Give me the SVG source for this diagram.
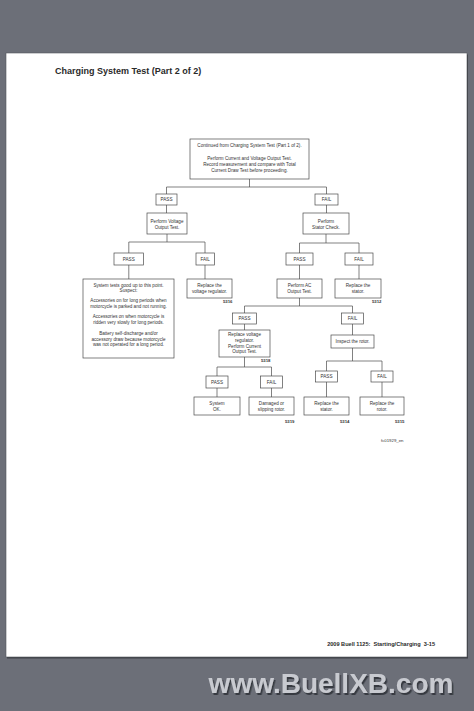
<svg xmlns="http://www.w3.org/2000/svg" width="474" height="711" viewBox="0 0 474 711">
<style>
.box{fill:#fff;stroke:#4a4a4a;stroke-width:0.7}
.conn{fill:none;stroke:#4a4a4a;stroke-width:0.7}
.t{font-family:"Liberation Sans",Arial,sans-serif;font-size:4.6px;fill:#333;text-anchor:middle}
.lbl{font-family:"Liberation Sans",Arial,sans-serif;font-size:4.3px;font-weight:bold;fill:#333;text-anchor:end}
</style>
<defs>
<filter id="sh" x="-5%" y="-20%" width="110%" height="150%">
<feDropShadow dx="1.5" dy="2" stdDeviation="0.6" flood-color="#33353b" flood-opacity="0.9"/>
</filter>
</defs>
<rect x="0" y="0" width="474" height="711" fill="#6c6f78"/>
<rect x="7" y="54.5" width="461" height="604" fill="#3e4047"/>
<rect x="6" y="53" width="461" height="604" fill="#fff" stroke="#55575e" stroke-width="0.6"/>
<text x="55" y="74" font-family="Liberation Sans,Arial,sans-serif" font-size="9" font-weight="bold" fill="#2a2a2a">Charging System Test (Part 2 of 2)</text>
<text x="435" y="646" font-family="Liberation Sans,Arial,sans-serif" font-size="5.6" font-weight="bold" fill="#2a2a2a" text-anchor="end" xml:space="preserve">2009 Buell 1125:  Starting/Charging  3-15</text>
<text x="381" y="441.5" font-family="Liberation Sans,Arial,sans-serif" font-size="4.3" fill="#333">fc01929_en</text>
<text x="331" y="692.5" font-family="Liberation Sans,Arial,sans-serif" font-size="28" font-weight="bold" fill="#c8cad0" text-anchor="middle" filter="url(#sh)">www.BuellXB.com</text>

<g id="connectors" class="conn">
<path d="M249.5 179V187M166.5 187H326.5M166.5 187V194M326.5 187V194"/>
<path d="M166.5 205V213M326.5 205V213"/>
<path d="M167 234V242M128.8 242H205M128.8 242V253M205 242V253"/>
<path d="M326 234V243M299.5 243H359M299.5 243V253M359 243V253"/>
<path d="M128.8 265V279M205 265V279M299.5 265V279M359 265V279"/>
<path d="M299.5 298V306M244.5 306H352.5M244.5 306V313M352.5 306V313"/>
<path d="M244.5 324V330M352.5 324V335"/>
<path d="M244.5 357V367M217 367H271.5M217 367V376M271.5 367V376"/>
<path d="M352.5 348V361M326.5 361H382M326.5 361V371M382 361V371"/>
<path d="M217 388V397M271.5 388V397M326.5 382V397M382 382V397"/>
</g>

<g id="n-start">
<rect class="box" x="190" y="139" width="119" height="40"/>
<text class="t" x="249.5" y="147.4">Continued from Charging System Test (Part 1 of 2).</text>
<text class="t" x="249.5" y="159.6">Perform Current and Voltage Output Test.</text>
<text class="t" x="249.5" y="165.9">Record measurement and compare with Total</text>
<text class="t" x="249.5" y="172.2">Current Draw Test before proceeding.</text>
</g>
<g id="n-pass1"><rect class="box" x="156" y="194" width="21" height="11"/><text class="t" x="166.5" y="201.1">PASS</text></g>
<g id="n-fail1"><rect class="box" x="315" y="194" width="23" height="11"/><text class="t" x="326.5" y="201.1">FAIL</text></g>
<g id="n-voltage"><rect class="box" x="147" y="213" width="40" height="21"/><text class="t" x="167" y="222.6">Perform Voltage</text><text class="t" x="167" y="229.3">Output Test.</text></g>
<g id="n-stator"><rect class="box" x="303" y="213" width="46" height="21"/><text class="t" x="326" y="222.6">Perform</text><text class="t" x="326" y="229.3">Stator Check.</text></g>
<g id="n-pass2"><rect class="box" x="114" y="253" width="29.5" height="12"/><text class="t" x="128.8" y="260.6">PASS</text></g>
<g id="n-fail2"><rect class="box" x="196" y="253" width="18.5" height="12"/><text class="t" x="205.2" y="260.6">FAIL</text></g>
<g id="n-pass3"><rect class="box" x="286" y="253" width="27" height="12"/><text class="t" x="299.5" y="260.6">PASS</text></g>
<g id="n-fail3"><rect class="box" x="345" y="253" width="28" height="12"/><text class="t" x="359" y="260.6">FAIL</text></g>
<g id="n-suspect">
<rect class="box" x="83" y="279" width="91" height="79"/>
<text class="t" x="128.5" y="286.6">System tests good up to this point.</text>
<text class="t" x="128.5" y="292.1">Suspect:</text>
<text class="t" x="128.5" y="302.1">Accessories on for long periods when</text>
<text class="t" x="128.5" y="307.6">motorcycle is parked and not running.</text>
<text class="t" x="128.5" y="318.4">Accessories on when motorcycle is</text>
<text class="t" x="128.5" y="323.9">ridden very slowly for long periods.</text>
<text class="t" x="128.5" y="335">Battery self-discharge and/or</text>
<text class="t" x="128.5" y="340.5">accessory draw because motorcycle</text>
<text class="t" x="128.5" y="346">was not operated for a long period.</text>
</g>
<g id="n-regulator"><rect class="box" x="187" y="279" width="45" height="19"/><text class="t" x="209.5" y="286.6">Replace the</text><text class="t" x="209.5" y="293.2">voltage regulator.</text><text class="lbl" x="232.5" y="302.5">5316</text></g>
<g id="n-ac"><rect class="box" x="277" y="279" width="45" height="19"/><text class="t" x="299.5" y="286.6">Perform AC</text><text class="t" x="299.5" y="293.2">Output Test.</text></g>
<g id="n-repstator"><rect class="box" x="335" y="279" width="46" height="19"/><text class="t" x="358" y="286.6">Replace the</text><text class="t" x="358" y="293.2">stator.</text><text class="lbl" x="381.5" y="302.5">5312</text></g>
<g id="n-pass4"><rect class="box" x="232.5" y="313" width="24" height="11"/><text class="t" x="244.5" y="320.1">PASS</text></g>
<g id="n-fail4"><rect class="box" x="341.5" y="313" width="22" height="11"/><text class="t" x="352.5" y="320.1">FAIL</text></g>
<g id="n-regcurrent"><rect class="box" x="219" y="330" width="51" height="27"/><text class="t" x="244.5" y="336.1">Replace voltage</text><text class="t" x="244.5" y="341.8">regulator.</text><text class="t" x="244.5" y="347.5">Perform Current</text><text class="t" x="244.5" y="353.2">Output Test.</text><text class="lbl" x="270.5" y="361.5">5318</text></g>
<g id="n-inspect"><rect class="box" x="331" y="335" width="43" height="13"/><text class="t" x="352.5" y="343.1">Inspect the rotor.</text></g>
<g id="n-pass5"><rect class="box" x="206" y="376" width="22" height="12"/><text class="t" x="217" y="383.6">PASS</text></g>
<g id="n-fail5"><rect class="box" x="260.5" y="376" width="22" height="12"/><text class="t" x="271.5" y="383.6">FAIL</text></g>
<g id="n-pass6"><rect class="box" x="315.5" y="371" width="22" height="11"/><text class="t" x="326.5" y="378.1">PASS</text></g>
<g id="n-fail6"><rect class="box" x="371" y="371" width="22" height="11"/><text class="t" x="382" y="378.1">FAIL</text></g>
<g id="n-ok"><rect class="box" x="194" y="397" width="46" height="18"/><text class="t" x="217" y="404.9">System</text><text class="t" x="217" y="410.9">OK.</text></g>
<g id="n-damaged"><rect class="box" x="249" y="397" width="45" height="18"/><text class="t" x="271.5" y="404.9">Damaged or</text><text class="t" x="271.5" y="410.9">slipping rotor.</text><text class="lbl" x="294.5" y="422.5">5319</text></g>
<g id="n-stator2"><rect class="box" x="304" y="397" width="45" height="18"/><text class="t" x="326.5" y="404.9">Replace the</text><text class="t" x="326.5" y="410.9">stator.</text><text class="lbl" x="349.5" y="422.5">5314</text></g>
<g id="n-rotor"><rect class="box" x="360" y="397" width="44" height="18"/><text class="t" x="382" y="404.9">Replace the</text><text class="t" x="382" y="410.9">rotor.</text><text class="lbl" x="404.5" y="422.5">5315</text></g>
</svg>
